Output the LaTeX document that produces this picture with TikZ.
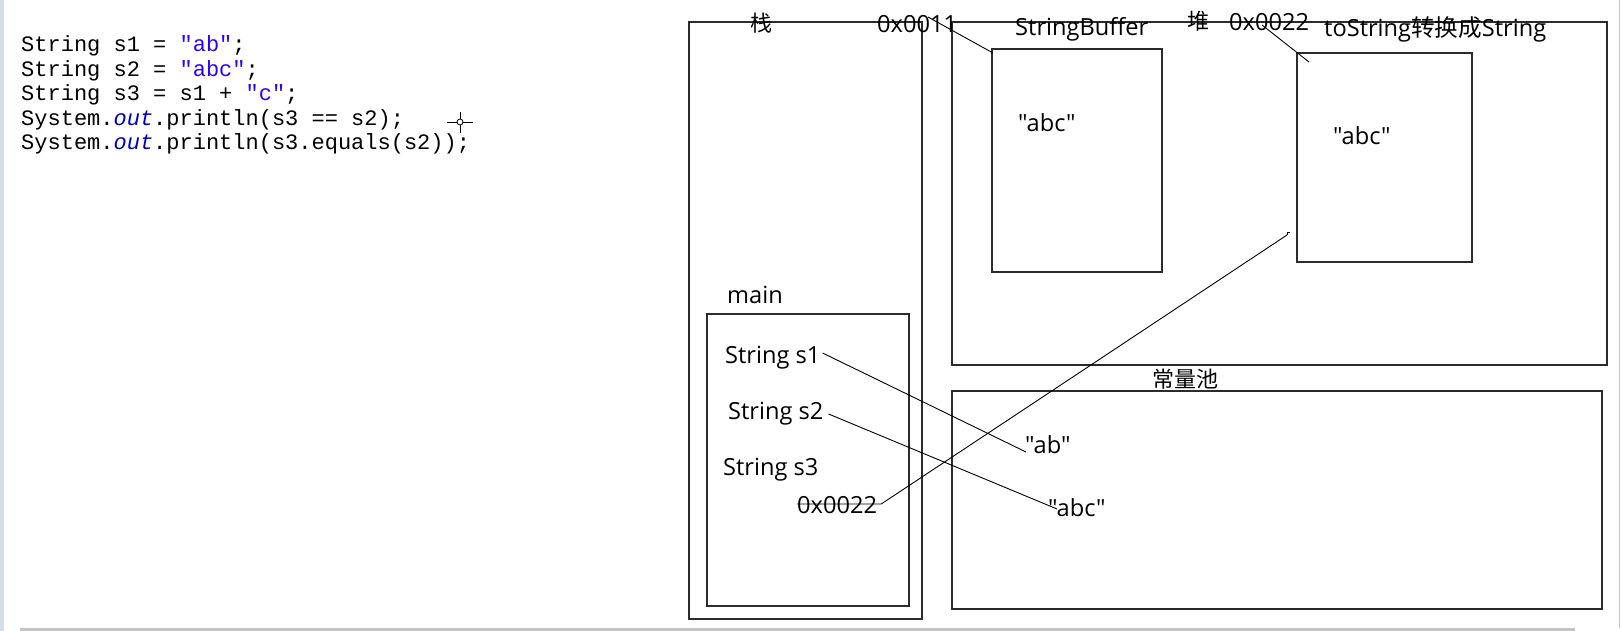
\documentclass[tikz,border=0pt]{standalone}
\usepackage{fontspec}
\newfontfamily\lblfont{Open Sans}
\newfontfamily\cjk{Noto Sans CJK SC}
\newfontfamily\codefont{Liberation Mono}
\definecolor{strblue}{HTML}{2A00FF}
\definecolor{fldblue}{HTML}{0000C0}
\definecolor{boxline}{HTML}{2B2B2B}
\definecolor{framegray}{HTML}{C4C4C4}
\definecolor{edgeblue}{HTML}{D5DDE8}
\tikzset{
  box/.style={draw=boxline, line width=1.2pt, inner sep=0pt, outer sep=0pt, anchor=north west},
  lbl/.style={inner sep=0pt, anchor=base west, font=\fontsize{23.6}{27}\selectfont\lblfont},
  cjklbl/.style={inner sep=0pt, anchor=base west, font=\fontsize{22}{26}\selectfont\cjk},
  code/.style={inner sep=0pt, anchor=base west, font=\fontsize{22}{25}\selectfont\codefont},
  conn/.style={draw=black, line width=0.9pt},
}
\begin{document}
\begin{tikzpicture}[x=1pt,y=-1pt]
\useasboundingbox (0,0) rectangle (1622,631);
\fill[white] (0,0) rectangle (1622,631);
\fill[edgeblue] (0,0) rectangle (4,631);
\fill[framegray] (20,628) rectangle (1575,631);
\draw[framegray, line width=1pt] (1619,0) -- (1619,628);

% code
\node[code] (l1) at (21,51.5) {String s1 = {\color{strblue}"ab"};};
\node[code] (l2) at (21,76.1) {String s2 = {\color{strblue}"abc"};};
\node[code] (l3) at (21,100.7) {String s3 = s1 + {\color{strblue}"c"};};
\node[code] (l4) at (21,125.3) {System.{\color{fldblue}\itshape out}.println(s3 == s2);};
\node[code] (l5) at (21,149.9) {System.{\color{fldblue}\itshape out}.println(s3.equals(s2));};

% cursor
\draw[line width=0.8pt] (447,122) -- (457,122) (463,122) -- (473,122)
  (460,112) -- (460,119) (460,125) -- (460,133);
\draw[line width=0.8pt] (460,122) circle (3);

% boxes
\node[box, minimum width=233pt, minimum height=597pt] (stack) at (689,22) {};
\node[box, minimum width=202pt, minimum height=292pt] (main) at (707,314) {};
\node[box, minimum width=655pt, minimum height=343pt] (heap) at (952,22) {};
\node[box, minimum width=650pt, minimum height=218pt] (pool) at (952,391) {};
\node[box, minimum width=170pt, minimum height=223pt] (sb) at (992,49) {};
\node[box, minimum width=175pt, minimum height=209pt] (ts) at (1297,53) {};

% labels
\node[cjklbl] (stacklbl) at (750,32) {栈};
\node[lbl] (addr1) at (877,33) {0x0011};
\node[lbl] (sbl) at (1015,36) {StringBuffer};
\node[cjklbl] (heaplbl) at (1187,30) {堆};
\node[lbl] (addr2) at (1229,31) {0x0022};
\node[lbl] (tsl) at (1324,37) {toString{\cjk 转换成}String};
\node[lbl] (abc1) at (1018,132) {"abc"};
\node[lbl] (abc2) at (1333,145) {"abc"};
\node[lbl] (mainl) at (727,303) {main};
\node[lbl] (s1) at (725,363) {String s1};
\node[lbl] (s2) at (728,419) {String s2};
\node[lbl] (s3) at (723,475) {String s3};
\node[lbl] (addr3) at (797,513) {0x0022};
\node[cjklbl] (pooll) at (1152,387) {常量池};
\node[lbl] (ab) at (1025,453) {"ab"};
\node[lbl] (abc3) at (1048,516) {"abc"};

% connectors
\draw[conn] ([shift={(51,-16)}]addr1.base west) -- ([shift={(1,4)}]sb.north west);
\draw[conn] ([shift={(33,-6)}]addr2.base west) -- ([shift={(12,9)}]ts.north west);
\draw[conn] ([shift={(2,-10)}]s1.base east) -- ([shift={(1,-1)}]ab.base west);
\draw[conn] ([shift={(5,-5)}]s2.base east) -- ([shift={(9,-7)}]abc3.base west);
\coordinate (s3end) at ([shift={(-10,182)}]ts.north west);
\draw[conn] ([shift={(0,-9)}]addr3.base west) -- ([shift={(4,-9)}]addr3.base east) -- (s3end);
\draw[conn, line width=0.7pt] (s3end) -- ++(0,-3) -- ++(3,0);
\end{tikzpicture}
\end{document}
